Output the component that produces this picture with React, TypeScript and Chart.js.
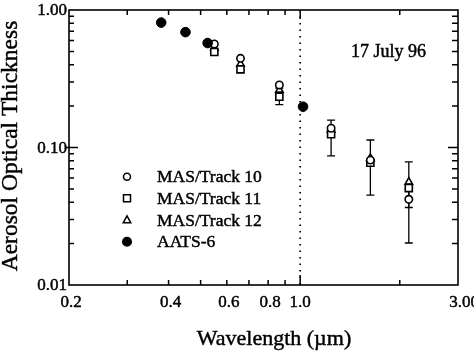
import React, { useEffect, useRef } from "react";
import { Chart, registerables } from "chart.js";

Chart.register(...registerables);

const FONT = '"Liberation Serif", "Times New Roman", serif';

// AATS-6 sun photometer
const aatsWavelength = [0.38, 0.45, 0.525, 1.02];
const aatsTau = [0.81, 0.69, 0.575, 0.198];

// MAS channels
const masWavelength = [0.55, 0.66, 0.865, 1.24, 1.63, 2.13];
const track10Tau = [0.566, 0.445, 0.285, 0.138, 0.081, 0.042];
const track11Tau = [0.495, 0.37, 0.234, 0.125, 0.0775, 0.0507];
const track12Tau = [0.529, 0.405, 0.262, 0.134, 0.0836, 0.0561];

// error bars (low / high)
const errWavelength = [0.865, 1.24, 1.63, 2.13, 2.13];
const errLow = [0.205, 0.087, 0.0451, 0.0202, 0.0366];
const errHigh = [0.27, 0.158, 0.1134, 0.0785, 0.05];

// tick values / labels
const xMinorTicks = [0.3, 0.4, 0.5, 0.6, 0.7, 0.8, 0.9, 2.0];
const xLabelValues = [0.2, 0.4, 0.6, 0.8, 1.0, 3.0];
const xLabelTexts = ["0.2", "0.4", "0.6", "0.8", "1.0", "3.00"];
const yMinorTicks = [0.02, 0.03, 0.04, 0.05, 0.06, 0.07, 0.08, 0.09, 0.2, 0.3, 0.4, 0.5, 0.6, 0.7, 0.8, 0.9];
const yLabelValues = [0.01, 0.1, 1.0];
const yLabelTexts = ["0.01", "0.10", "1.00"];

const legendLabels = ["MAS/Track 10", "MAS/Track 11", "MAS/Track 12", "AATS-6"];
const dateLabel = "17 July 96";
const xTitle = "Wavelength (\u00b5m)";
const yTitle = "Aerosol Optical Thickness";

function pts(xs: number[], ys: number[]) {
  return xs.map((x, i) => ({ x, y: ys[i] }));
}

function text(ctx: CanvasRenderingContext2D, s: string, x: number, y: number) {
  ctx.fillText(s, x, y);
  ctx.strokeText(s, x, y);
}

function drawSymbol(ctx: CanvasRenderingContext2D, kind: string, x: number, y: number) {
  ctx.save();
  ctx.lineWidth = 1.5;
  ctx.strokeStyle = "#000";
  ctx.fillStyle = "#fff";
  ctx.beginPath();
  if (kind === "circle") {
    ctx.arc(x, y, 3.5, 0, Math.PI * 2);
  } else if (kind === "rect") {
    ctx.rect(x - 3.5, y - 3.5, 7, 7);
  } else if (kind === "triangle") {
    ctx.moveTo(x, y - 4.2);
    ctx.lineTo(x + 3.8, y + 2.8);
    ctx.lineTo(x - 3.8, y + 2.8);
    ctx.closePath();
  } else {
    ctx.fillStyle = "#000";
    ctx.arc(x, y, 4.3, 0, Math.PI * 2);
  }
  ctx.fill();
  ctx.stroke();
  ctx.restore();
}

const overlay = {
  id: "overlay",
  beforeDatasetsDraw(chart: any) {
    const ctx: CanvasRenderingContext2D = chart.ctx;
    const { top, bottom } = chart.chartArea;
    const xs = chart.scales.x;
    const ys = chart.scales.y;
    ctx.save();
    // dotted line at 1.0 um
    ctx.strokeStyle = "#000";
    ctx.lineWidth = 1.7;
    ctx.setLineDash([1.5, 5]);
    const x1 = xs.getPixelForValue(1.0);
    ctx.beginPath();
    ctx.moveTo(x1, top);
    ctx.lineTo(x1, bottom);
    ctx.stroke();
    ctx.setLineDash([]);
    // error bars
    ctx.lineWidth = 1.3;
    errWavelength.forEach((w, i) => {
      const px = xs.getPixelForValue(w);
      const pl = ys.getPixelForValue(errLow[i]);
      const ph = ys.getPixelForValue(errHigh[i]);
      ctx.beginPath();
      ctx.moveTo(px, pl);
      ctx.lineTo(px, ph);
      ctx.moveTo(px - 4, pl);
      ctx.lineTo(px + 4, pl);
      ctx.moveTo(px - 4, ph);
      ctx.lineTo(px + 4, ph);
      ctx.stroke();
    });
    ctx.restore();
  },
  afterDraw(chart: any) {
    const ctx: CanvasRenderingContext2D = chart.ctx;
    const { left, right, top, bottom } = chart.chartArea;
    const xs = chart.scales.x;
    const ys = chart.scales.y;
    ctx.save();
    ctx.strokeStyle = "#000";
    ctx.fillStyle = "#000";
    ctx.lineWidth = 1.6;
    ctx.strokeRect(left, top, right - left, bottom - top);

    // x ticks (inward, top and bottom)
    ctx.lineWidth = 1.5;
    ctx.beginPath();
    xMinorTicks.forEach((v) => {
      const px = xs.getPixelForValue(v);
      ctx.moveTo(px, bottom);
      ctx.lineTo(px, bottom - 5);
      ctx.moveTo(px, top);
      ctx.lineTo(px, top + 5);
    });
    const p1 = xs.getPixelForValue(1.0);
    ctx.moveTo(p1, bottom);
    ctx.lineTo(p1, bottom - 10);
    ctx.moveTo(p1, top);
    ctx.lineTo(p1, top + 9);
    // y ticks (inward, left and right)
    yMinorTicks.forEach((v) => {
      const py = ys.getPixelForValue(v);
      ctx.moveTo(left, py);
      ctx.lineTo(left + 5, py);
      ctx.moveTo(right, py);
      ctx.lineTo(right - 6, py);
    });
    const pt = ys.getPixelForValue(0.1);
    ctx.moveTo(left - 3, pt);
    ctx.lineTo(left + 9, pt);
    ctx.moveTo(right, pt);
    ctx.lineTo(right - 10, pt);
    ctx.stroke();

    ctx.lineWidth = 0.45;
    // tick labels
    ctx.font = `17px ${FONT}`;
    ctx.textBaseline = "alphabetic";
    ctx.textAlign = "right";
    yLabelValues.forEach((v, i) => {
      const py = ys.getPixelForValue(v);
      text(ctx, yLabelTexts[i], left - 2, py + 5);
    });
    ctx.textAlign = "center";
    xLabelValues.forEach((v, i) => {
      let px = xs.getPixelForValue(v);
      if (v === 3.0) px += 6;
      else if (v !== 1.0) px += 2;
      text(ctx, xLabelTexts[i], px, 306.5);
    });

    // axis titles
    ctx.font = `22px ${FONT}`;
    ctx.textAlign = "center";
    text(ctx, xTitle, 274, 345);
    ctx.save();
    ctx.font = `23.5px ${FONT}`;
    ctx.translate(17, 146);
    ctx.rotate(-Math.PI / 2);
    text(ctx, yTitle, 0, 0);
    ctx.restore();

    // date annotation
    ctx.font = `18px ${FONT}`;
    ctx.textAlign = "center";
    text(ctx, dateLabel, 388.5, 56.5);

    // legend
    const kinds = ["circle", "rect", "triangle", "filled"];
    const rowY = [176.7, 198.3, 220, 241.7];
    ctx.font = `17.5px ${FONT}`;
    ctx.textAlign = "left";
    legendLabels.forEach((lab, i) => {
      drawSymbol(ctx, kinds[i], 127, rowY[i]);
      ctx.fillStyle = "#000";
      ctx.strokeStyle = "#000";
      ctx.lineWidth = 0.45;
      text(ctx, lab, 157, rowY[i] + 5.5);
    });
    ctx.restore();
  },
};

export default function App() {
  const ref = useRef<HTMLCanvasElement>(null);
  useEffect(() => {
    const canvas = ref.current;
    if (!canvas) return;
    const common = {
      showLine: false,
      borderColor: "#000",
      backgroundColor: "#fff",
      borderWidth: 1.6,
    };
    const chart = new Chart(canvas, {
      type: "scatter",
      data: {
        datasets: [
          {
            label: legendLabels[3],
            data: pts(aatsWavelength, aatsTau),
            pointStyle: "circle",
            pointRadius: 4.8,
            borderColor: "#000",
            backgroundColor: "#000",
            borderWidth: 1,
          },
          { label: legendLabels[0], data: pts(masWavelength, track10Tau), pointStyle: "circle", pointRadius: 3.7, ...common },
          { label: legendLabels[1], data: pts(masWavelength, track11Tau), pointStyle: "rect", pointRadius: 5, ...common },
          { label: legendLabels[2], data: pts(masWavelength, track12Tau), pointStyle: "triangle", pointRadius: 4.3, ...common },
        ] as any,
      },
      options: {
        animation: false,
        responsive: false,
        devicePixelRatio: 1,
        layout: { padding: { left: 69, right: 16, top: 10, bottom: 66 } },
        plugins: { legend: { display: false }, tooltip: { enabled: false } },
        scales: {
          x: { type: "logarithmic", min: 0.2, max: 3.0, display: false },
          y: { type: "logarithmic", min: 0.01, max: 1.0, display: false },
        },
      },
      plugins: [overlay as any],
    });
    return () => chart.destroy();
  }, []);
  return (
    <div style={{ position: "fixed", left: 0, top: 0, width: 474, height: 351, background: "#fff" }}>
      <canvas ref={ref} width={474} height={351} style={{ display: "block" }} />
    </div>
  );
}
